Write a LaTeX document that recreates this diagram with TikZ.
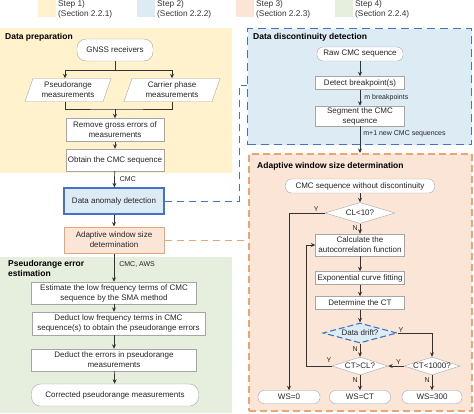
\documentclass[tikz,border=0pt]{standalone}
\usepackage{fontspec}
\setmainfont{Liberation Sans}
\usetikzlibrary{shapes.geometric,arrows.meta}

\definecolor{stepA}{HTML}{FFF2CC}
\definecolor{stepB}{HTML}{DDEBF5}
\definecolor{stepC}{HTML}{FBE5D6}
\definecolor{stepD}{HTML}{E6EEDD}
\definecolor{lineB}{HTML}{4472C4}
\definecolor{lineC}{HTML}{EBA474}

\tikzset{
  box/.style={draw=black!35, fill=white, align=center, inner sep=1pt, text=black!85,
              font=\fontsize{8}{10}\selectfont},
  term/.style={box, rounded corners=#1}, term/.default=6pt,
  iobox/.style={box, trapezium, trapezium left angle=66, trapezium right angle=114,
                trapezium stretches body},
  cond/.style={box, diamond, inner sep=0pt},
  arr/.style={-{Stealth[length=4.5pt,width=4pt]}, black!80, line width=0.7pt},
  lab/.style={font=\fontsize{7}{8}\selectfont, text=black!85, inner sep=1pt},
  title/.style={font=\fontsize{8.5}{10}\selectfont\bfseries, anchor=west, inner sep=0pt, align=left},
  panel/.style={inner sep=0pt, anchor=north west},
}

\begin{document}
\begin{tikzpicture}[x=1pt, y=-1pt]
\useasboundingbox (0,0) rectangle (474,413);

% legend
\foreach \x/\c/\n in {38/stepA/1, 137/stepB/2, 236/stepC/3, 335/stepD/4} {
  \fill[\c] (\x,0) rectangle ++(18,17);
  \node[anchor=north west, align=left, inner sep=0pt, text=black!80,
        font=\fontsize{8.3}{10}\selectfont] (leg\n) at (\x+20,0) {Step \n)\\(Section 2.2.\n)};
}

% panels
\node[panel, fill=stepA, minimum width=232pt, minimum height=145pt] (prep) at (0,28) {};
\node[panel, fill=stepD, minimum width=232pt, minimum height=156pt] (esti) at (0,257) {};
\node[panel, fill=stepB, draw=lineB, line width=1.3pt, dash pattern=on 8pt off 5pt,
      minimum width=224pt, minimum height=116pt] (disc) at (247,28) {};
\node[panel, fill=stepC, draw=lineC, line width=1.5pt, dash pattern=on 7pt off 4pt,
      minimum width=223pt, minimum height=257pt] (awsd) at (248,153) {};

\node[title] (tprep) at (5,37) {Data preparation};
\node[title] (testi) at (8,268.5) {Pseudorange error\\estimation};
\node[title] (tdisc) at (253,37) {Data discontinuity detection};
\node[title] (tawsd) at (257,166) {Adaptive window size determination};

% step 1 and step 4
\node[term=9pt, minimum width=76pt, minimum height=22pt] (gnss) at (115,50) {GNSS receivers};
\node[iobox, minimum width=86pt, minimum height=23pt] (pseudo) at (68,90) {Pseudorange\\measurements};
\node[iobox, minimum width=96pt, minimum height=23pt] (carrier) at (172,90) {Carrier phase\\measurements};
\node[box, minimum width=98pt, minimum height=23pt] (remove) at (115,130) {Remove gross errors of\\measurements};
\node[box, minimum width=98pt, minimum height=22pt] (obtain) at (115,160) {Obtain the CMC sequence};
\node[box, fill=stepB, draw=lineB, line width=1.2pt, minimum width=100pt, minimum height=26pt]
  (anomaly) at (114,201) {Data anomaly detection};
\node[box, fill=stepC, draw=lineC, line width=1pt, minimum width=100pt, minimum height=26pt]
  (adaptive) at (114,240) {Adaptive window size\\determination};
\node[box, minimum width=165pt, minimum height=22pt] (estimate) at (114,293) {Estimate the low frequency terms of CMC\\sequence by the SMA method};
\node[box, minimum width=173pt, minimum height=23pt] (deduct) at (118.5,323.5) {Deduct low frequency terms in CMC\\sequence(s) to obtain the pseudorange errors};
\node[box, minimum width=165pt, minimum height=22pt] (errors) at (114,360) {Deduct the errors in pseudorange\\measurements};
\node[term=9pt, minimum width=167pt, minimum height=22pt] (corrected) at (115,395) {Corrected pseudorange measurements};

\coordinate (split) at (115,70);
\coordinate (merge) at (115,109);
\draw[arr] (gnss) -- (split) -| (pseudo.north -| 65,0);
\draw[arr] (split) -| (carrier);
\draw[black!80, line width=0.7pt] (pseudo.south -| 65,0) |- (merge) -| (carrier.south);
\draw[arr] (merge) -- (remove);
\draw[arr] (remove) -- (obtain);
\draw[arr] (obtain) -- (anomaly) node[lab, midway, right=4pt] (lcmc) {CMC};
\draw[arr] (anomaly) -- (adaptive);
\draw[arr] (adaptive.south) -- (adaptive.south |- estimate.north)
  node[lab, pos=0.4, right=4pt] (laws) {CMC, AWS};
\draw[arr] (estimate.south) -- (estimate.south |- deduct.north);
\draw[arr] (deduct.south -| estimate.south) -- (errors.north);
\draw[arr] (errors) -- (corrected);

% links to step 2 and step 3
\coordinate (bturn) at (239,85);
\draw[lineB, line width=1pt, dash pattern=on 7pt off 5pt] (anomaly.east) -| (bturn) -- (bturn -| disc.west);
\draw[lineC, line width=1pt, dash pattern=on 7pt off 5pt] (adaptive.east) -- (adaptive.east -| awsd.west);

% step 2
\node[term, minimum width=86pt, minimum height=14pt] (raw) at (360,54) {Raw CMC sequence};
\node[box, minimum width=89pt, minimum height=13pt] (detect) at (360,83) {Detect breakpoint(s)};
\node[box, minimum width=89pt, minimum height=20pt] (segment) at (360,116) {Segment the CMC\\sequence};
\draw[arr] (raw) -- (detect);
\draw[arr] (detect) -- (segment) node[lab, midway, right=3pt] (lbreak) {m breakpoints};
\draw[arr] (segment.south) -- (segment.south |- awsd.north)
  node[lab, pos=0.3, right=2pt] (lnew) {m+1 new CMC sequences};

% step 3
\node[term, minimum width=149pt, minimum height=14pt] (cmcseq) at (360,186) {CMC sequence without discontinuity};
\node[cond, aspect=3.3, minimum width=70pt, minimum height=21pt] (cl) at (360,213) {CL<10?};
\node[box, minimum width=89pt, minimum height=22pt] (calc) at (360,245) {Calculate the\\autocorrelation function};
\node[box, minimum width=89pt, minimum height=13pt] (expfit) at (360,278) {Exponential curve fitting};
\node[box, minimum width=89pt, minimum height=13pt] (ctdet) at (360,303) {Determine the CT};
\node[cond, aspect=3.7, fill=stepB, draw=lineB, line width=1.1pt, dash pattern=on 6pt off 3pt,
      minimum width=74pt, minimum height=20pt] (drift) at (360,333) {Data drift?};
\node[cond, aspect=3.1, minimum width=56pt, minimum height=18pt] (ctcl) at (360,366) {CT>CL?};
\node[cond, aspect=3.1, minimum width=56pt, minimum height=18pt] (ctk) at (432,366) {CT<1000?};
\node[term, minimum width=62pt, minimum height=13pt] (ws0) at (289,397) {WS=0};
\node[term, minimum width=61pt, minimum height=13pt] (wsct) at (360,397) {WS=CT};
\node[term, minimum width=60pt, minimum height=13pt] (ws300) at (432,397) {WS=300};

\coordinate (loop) at (306,366);
\draw[arr] (cmcseq) -- (cl);
\draw[arr] (cl) -- (calc) node[lab, pos=0.45, left=1pt] (lno1) {N};
\draw[arr] (cl.west) -| (ws0.north) node[lab, pos=0.12, above=0pt] (lyes1) {Y};
\draw[arr] (calc) -- (expfit);
\draw[arr] (expfit) -- (ctdet);
\draw[arr] (ctdet) -- (drift);
\draw[arr] (drift) -- (ctcl) node[lab, pos=0.4, left=1pt] (lno2) {N};
\draw[arr] (drift.east) -| (ctk.north) node[lab, pos=0.05, above=-1pt] (lyes2) {Y};
\draw[arr] (ctk.west) -- (ctcl.east) node[lab, pos=0.35, above=0pt] (lyes3) {Y};
\draw[arr] (ctcl.west) -- (loop) |- (calc.west);
\node[lab] (lyes4) at (329,360) {Y};
\draw[arr] (ctcl) -- (wsct) node[lab, pos=0.35, left=1pt] (lno3) {N};
\draw[arr] (ctk) -- (ws300) node[lab, pos=0.35, left=1pt] (lno4) {N};
\end{tikzpicture}
\end{document}
